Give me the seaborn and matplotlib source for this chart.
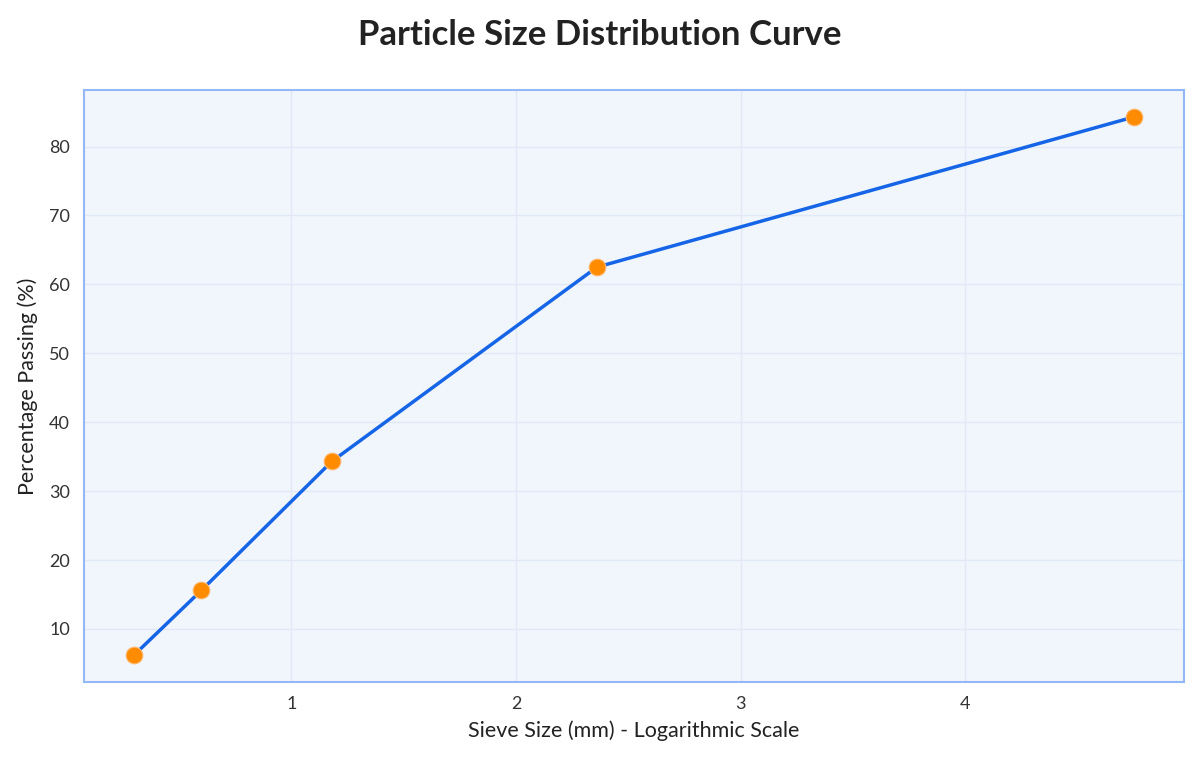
import matplotlib
matplotlib.use("Agg")
import matplotlib.pyplot as plt
import seaborn as sns
import pandas as pd

sieve_sizes = [0.3, 0.6, 1.18, 2.36, 4.75]
percent_passing = [6.2, 15.6, 34.3, 62.5, 84.3]

sns.set_theme(style="white")
plt.rcParams['font.family'] = ['Lato', 'DejaVu Sans']

df = pd.DataFrame({"size": sieve_sizes, "passing": percent_passing})

fig = plt.figure(figsize=(12, 7.6), dpi=100)
ax = fig.add_axes([0.07, 0.1026, 0.9167, 0.779])
ax.set_facecolor("#f1f6fd")

sns.lineplot(data=df, x="size", y="passing", ax=ax, color="#1565e6", linewidth=2.5,
             marker="o", markersize=12, markerfacecolor="#ff8c00", markeredgecolor="#ffb870",
             markeredgewidth=0.8, zorder=3)

ax.grid(True, color="#e2e9f6", linewidth=1)
ax.set_axisbelow(True)
for s in ax.spines.values():
    s.set_color("#93b8f5")
    s.set_linewidth(1.5)
ax.tick_params(axis="both", length=0, labelsize=13, labelcolor="#333333", pad=10)
ax.set_xticks([1, 2, 3, 4])
ax.set_yticks([10, 20, 30, 40, 50, 60, 70, 80])
ax.set_xlabel("Sieve Size (mm) - Logarithmic Scale", fontsize=15.5, color="#222222", labelpad=6)
ax.set_ylabel("Percentage Passing (%)", fontsize=15.5, color="#222222", labelpad=8)
fig.suptitle("Particle Size Distribution Curve", fontsize=25, fontweight="bold",
             color="#222222", y=0.975)

fig.savefig("out.png", dpi=100)
